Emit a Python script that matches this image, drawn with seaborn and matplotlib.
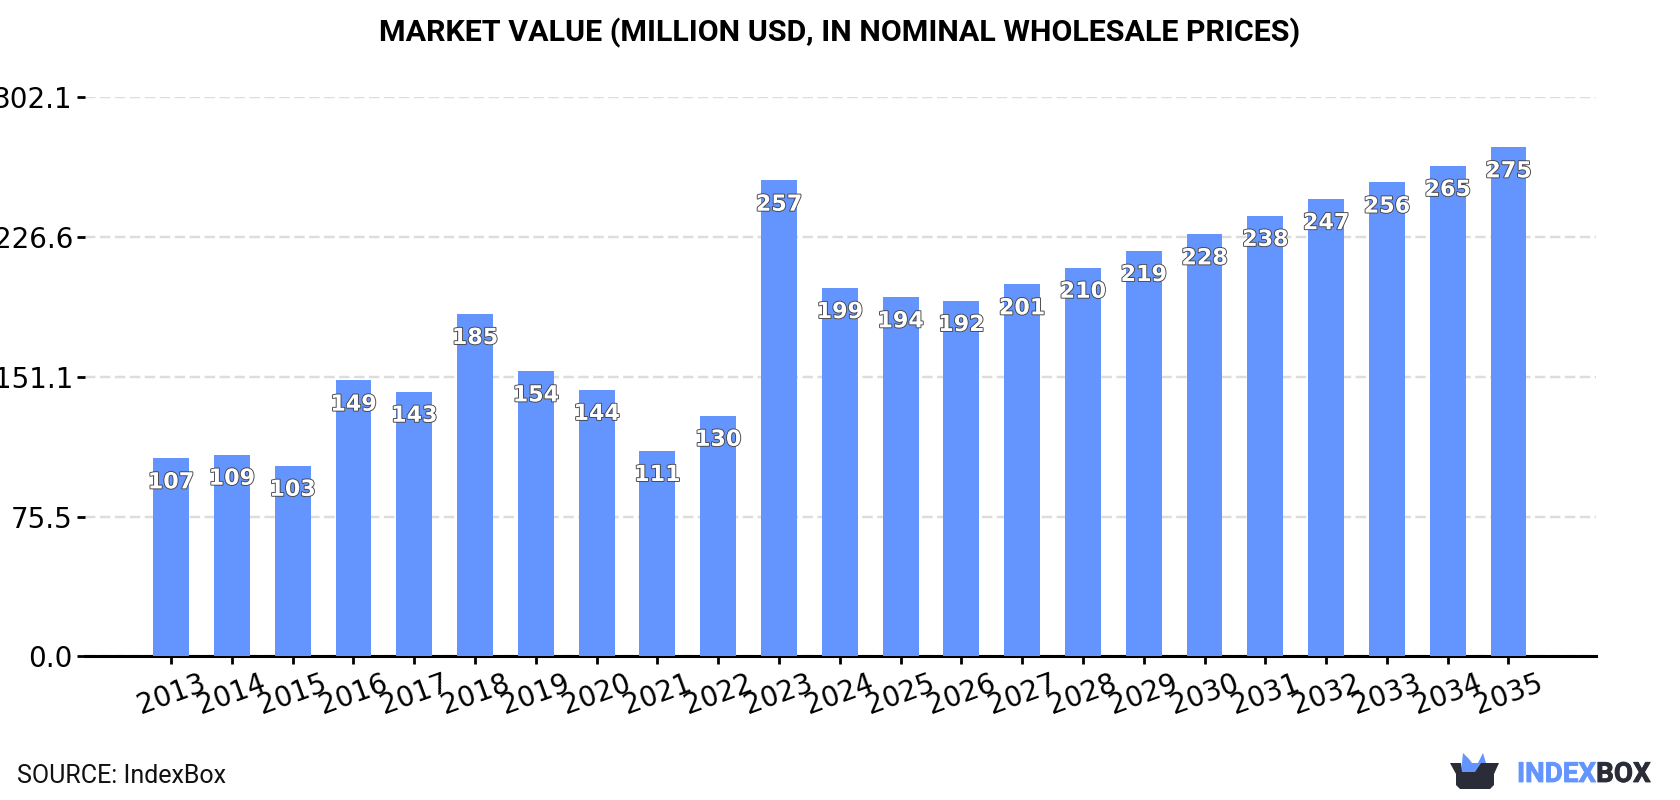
import matplotlib
matplotlib.use("Agg")
import matplotlib.pyplot as plt
import matplotlib.patheffects as pe
from matplotlib.patches import Polygon
import pandas as pd
import seaborn as sns

years = list(range(2013, 2036))
values = [107, 109, 103, 149, 143, 185, 154, 144, 111, 130, 257, 199,
          194, 192, 201, 210, 219, 228, 238, 247, 256, 265, 275]
y_ticks = [0.0, 75.5, 151.1, 226.6, 302.1]

BLUE = "#6495ff"
DARK = "#2a2c38"

sns.set_theme(style="white")
W, H = 1680, 800
fig = plt.figure(figsize=(W / 100, H / 100), dpi=100, facecolor="white")
ax = fig.add_axes([85.4 / W, 1 - 656.3 / H, (1596 - 85.4) / W, (656.3 - 97) / H])

frame = pd.DataFrame({"year": years, "value": values})
sns.barplot(data=frame, x="year", y="value", color=BLUE, saturation=1,
            width=0.59, ax=ax, zorder=3, linewidth=0, edgecolor="none")

ax.set_xlim(-1.41, 23.44)
ax.set_ylim(0, 302.1)
ax.set_xlabel("")
ax.set_ylabel("")
ax.set_yticks(y_ticks)
ax.set_yticklabels([f"{t:.1f}" for t in y_ticks])
ax.grid(axis="y", color="#dddddd", linestyle=(0, (4.3, 1.85)), linewidth=1.75, zorder=0)
ax.set_axisbelow(True)
ax.tick_params(axis="y", length=6, width=2, color="black", labelsize=20,
               labelcolor="black", pad=3, left=True)
ax.tick_params(axis="x", length=6, width=2, color="black", labelsize=20,
               labelcolor="black", pad=3, bottom=True)
for lab in ax.get_xticklabels():
    lab.set_rotation(20)
    lab.set_ha("center")

for side in ("top", "right", "left"):
    ax.spines[side].set_visible(False)
ax.spines["bottom"].set_color("black")
ax.spines["bottom"].set_linewidth(2.2)

# Value labels sit just inside the top of each bar
for i, v in enumerate(values):
    ax.annotate(str(v), (i, v), xytext=(0, -16), textcoords="offset points",
                ha="center", va="center_baseline", fontsize=16, fontweight="bold",
                color="white", zorder=5,
                path_effects=[pe.withStroke(linewidth=1.3, foreground="#444444")])

fig.text(0.5, 1 - 32.5 / H, "MARKET VALUE (MILLION USD, IN NOMINAL WHOLESALE PRICES)",
         ha="center", va="center", fontsize=21.9, fontweight="bold",
         family="Roboto", color="black")
fig.text(17 / W, 1 - 776 / H, "SOURCE: IndexBox", ha="left", va="center",
         fontsize=18, family="Roboto", color="#111111")

# Brand mark: open box with a blue crown, then the wordmark
logo = fig.add_axes([1440 / W, 1 - 792 / H, 70 / W, 44 / H])
logo.set_xlim(1440, 1510)
logo.set_ylim(792, 748)
logo.axis("off")
logo.add_patch(Polygon([(1461, 772), (1463, 753), (1469, 759), (1472, 763), (1478, 763),
                        (1483, 753), (1486, 763), (1487, 775), (1461, 775)],
                       closed=True, facecolor=BLUE, edgecolor="none"))
logo.add_patch(Polygon([(1450, 763), (1461, 763), (1462, 772), (1475, 772), (1481, 763),
                        (1499, 763), (1494, 774), (1494, 785), (1490, 789),
                        (1460, 789), (1456, 785), (1456, 774)],
                       closed=True, facecolor=DARK, edgecolor="none"))

word = fig.text(1517 / W, 1 - 774.5 / H, "INDEX", ha="left", va="center", fontsize=20,
                fontweight="bold", family="Roboto", color=BLUE,
                path_effects=[pe.withStroke(linewidth=0.6, foreground=BLUE)])
fig.canvas.draw()
bb = word.get_window_extent()
fig.text(bb.x1 / W, 1 - 774.5 / H, "BOX", ha="left", va="center", fontsize=20,
         fontweight="bold", family="Roboto", color=DARK,
         path_effects=[pe.withStroke(linewidth=0.6, foreground=DARK)])

fig.savefig("out.png", dpi=100, facecolor="white")
